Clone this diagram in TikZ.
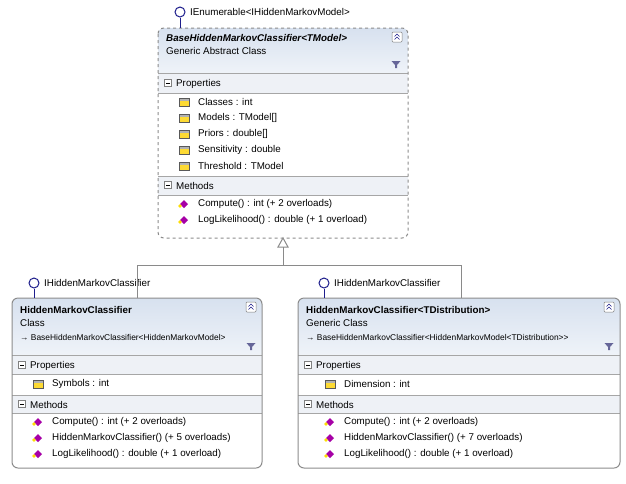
\documentclass[tikz,border=0pt]{standalone}
\usepackage{fontspec}
\setmainfont{Liberation Sans}
\usetikzlibrary{shapes.geometric,calc}
\definecolor{hdr}{HTML}{D7E1EF}
\definecolor{band}{HTML}{EEF1F6}
\definecolor{bord}{HTML}{8C8C8C}
\definecolor{lolly}{HTML}{1E1E8C}
\definecolor{conn}{HTML}{8A8A8A}
\tikzset{
 txt/.style={inner sep=0pt,anchor=west,font=\fontsize{9.8}{10}\selectfont},
 bold/.style={txt,font=\fontsize{9.8}{10}\selectfont\bfseries},
 line/.style={draw=conn,line width=1pt},
}
\newcommand{\propicon}[1]{%
 \fill[yellow!70!orange!80] ($(#1)+(-5,-3)$) rectangle ($(#1)+(5,4)$);
 \fill[gray!60] ($(#1)+(-5,-4)$) rectangle ($(#1)+(5,-1)$);
 \draw[gray!70!black,line width=0.4pt] ($(#1)+(-5,-4)$) rectangle ($(#1)+(5,4)$);}
\newcommand{\methicon}[1]{%
 \fill[violet!70!magenta] ($(#1)+(0,-4)$) -- ($(#1)+(4,0)$) -- ($(#1)+(0,4)$) -- ($(#1)+(-4,0)$) -- cycle;
 \fill[yellow!80!orange] ($(#1)+(-4,2)$) circle (1.8);}
\newcommand{\minusbox}[1]{%
 \draw[gray,fill=white,line width=0.5pt] ($(#1)+(-3.5,-3.5)$) rectangle ($(#1)+(3.5,3.5)$);
 \draw[black,line width=0.6pt] ($(#1)+(-2,0)$) -- ($(#1)+(2,0)$);}
\newcommand{\collapse}[1]{%
 \draw[gray,fill=white,line width=0.5pt,rounded corners=1pt] ($(#1)+(-5,-5)$) rectangle ($(#1)+(5,5)$);
 \draw[lolly,line width=0.6pt] ($(#1)+(-2.5,-0.5)$) -- ($(#1)+(0,-3)$) -- ($(#1)+(2.5,-0.5)$);
 \draw[lolly,line width=0.6pt] ($(#1)+(-2.5,2.5)$) -- ($(#1)+(0,0)$) -- ($(#1)+(2.5,2.5)$);}
\newcommand{\funnel}[1]{%
 \fill[gray!80!blue] ($(#1)+(-4.5,-3)$) -- ($(#1)+(4.5,-3)$) -- ($(#1)+(1,1)$) -- ($(#1)+(1,4)$) -- ($(#1)+(-1,4)$) -- ($(#1)+(-1,1)$) -- cycle;}
\begin{document}
\begin{tikzpicture}[x=1pt,y=-1pt]
\useasboundingbox[fill=white] (0,0) rectangle (626,483);
% ---------- top box
\begin{scope}
\clip[rounded corners=6pt] (158,28) rectangle (408,238);
\shade[top color=hdr,bottom color=hdr!40] (158,28) rectangle (408,73);
\fill[band] (158,74) rectangle (408,93);
\fill[band] (158,176) rectangle (408,195);
\end{scope}
\draw[gray!70,line width=0.5pt] (158,73.5) -- (408,73.5) (158,93) -- (408,93) (158,176) -- (408,176) (158,195) -- (408,195);
\draw[bord,dashed,line width=1pt,rounded corners=6pt] (158,28) rectangle (408,238);
\coordinate (baseTop) at (180,28);
\coordinate (baseBot) at (283,238);
\node[bold,font=\fontsize{9.8}{10}\selectfont\bfseries\itshape] (bn) at (166,38) {BaseHiddenMarkovClassifier<TModel>};
\node[txt] (bs) at (166,51) {Generic Abstract Class};
\collapse{397,37} \funnel{396,64}
\minusbox{168,83} \node[txt] (bp) at (176,84) {Properties};
\foreach \y/\t in {102/Classes : int,118/Models : TModel[],134/Priors : double[],150/Sensitivity : double,166/Threshold : TModel}{
 \propicon{184,\y} \node[txt] at (198,\y) {\t};}
\minusbox{168,185} \node[txt] (bm) at (176,186) {Methods};
\foreach \y/\t in {204/Compute() : int (+ 2 overloads),220/LogLikelihood() : double (+ 1 overload)}{
 \methicon{184,\y} \node[txt] at (198,\y) {\t};}
\node[draw=lolly,circle,line width=1pt,minimum size=10pt,inner sep=0pt] (i1) at (180,12) {};
\draw[lolly,line width=1pt] (i1) -- (baseTop);
\node[txt] at (190,12) {IEnumerable<IHiddenMarkovModel>};
% ---------- left box
\begin{scope}
\clip[rounded corners=6pt] (12,298) rectangle (262,468);
\shade[top color=hdr,bottom color=hdr!40] (12,298) rectangle (262,355);
\fill[band] (12,356) rectangle (262,374);
\fill[band] (12,395) rectangle (262,413);
\end{scope}
\draw[gray!70,line width=0.5pt] (12,355.5) -- (262,355.5) (12,374) -- (262,374) (12,395) -- (262,395) (12,413) -- (262,413);
\draw[bord,line width=1pt,rounded corners=6pt] (12,298) rectangle (262,468);
\coordinate (lTop) at (137,298); \coordinate (lLolly) at (34,298);
\node[bold] at (20,310) {HiddenMarkovClassifier};
\node[txt] at (20,323) {Class};
\node[txt] at (20,337) {\fontsize{8.4}{9}\selectfont → BaseHiddenMarkovClassifier<HiddenMarkovModel>};
\collapse{251,307} \funnel{251,346}
\minusbox{22,365} \node[txt] at (30,366) {Properties};
\propicon{38,384} \node[txt] at (52,384) {Symbols : int};
\minusbox{22,404} \node[txt] at (30,405) {Methods};
\foreach \y/\t in {422/Compute() : int (+ 2 overloads),438/HiddenMarkovClassifier() (+ 5 overloads),454/LogLikelihood() : double (+ 1 overload)}{
 \methicon{38,\y} \node[txt] at (52,\y) {\t};}
\node[draw=lolly,circle,line width=1pt,minimum size=10pt,inner sep=0pt] (i2) at (34,283) {};
\draw[lolly,line width=1pt] (i2) -- (lLolly);
\node[txt] at (44,283) {IHiddenMarkovClassifier};
% ---------- right box
\begin{scope}
\clip[rounded corners=6pt] (298,298) rectangle (620,468);
\shade[top color=hdr,bottom color=hdr!40] (298,298) rectangle (620,355);
\fill[band] (298,356) rectangle (620,374);
\fill[band] (298,395) rectangle (620,413);
\end{scope}
\draw[gray!70,line width=0.5pt] (298,355.5) -- (620,355.5) (298,374) -- (620,374) (298,395) -- (620,395) (298,413) -- (620,413);
\draw[bord,line width=1pt,rounded corners=6pt] (298,298) rectangle (620,468);
\coordinate (rTop) at (461,298); \coordinate (rLolly) at (324,298);
\node[bold] at (306,310) {HiddenMarkovClassifier<TDistribution>};
\node[txt] at (306,323) {Generic Class};
\node[txt] at (306,337) {\fontsize{8.4}{9}\selectfont → BaseHiddenMarkovClassifier<HiddenMarkovModel<TDistribution>{}>};
\collapse{609,307} \funnel{609,346}
\minusbox{308,365} \node[txt] at (316,366) {Properties};
\propicon{330,384} \node[txt] at (344,384) {Dimension : int};
\minusbox{308,404} \node[txt] at (316,405) {Methods};
\foreach \y/\t in {422/Compute() : int (+ 2 overloads),438/HiddenMarkovClassifier() (+ 7 overloads),454/LogLikelihood() : double (+ 1 overload)}{
 \methicon{330,\y} \node[txt] at (344,\y) {\t};}
\node[draw=lolly,circle,line width=1pt,minimum size=10pt,inner sep=0pt] (i3) at (324,283) {};
\draw[lolly,line width=1pt] (i3) -- (rLolly);
\node[txt] at (334,283) {IHiddenMarkovClassifier};
% ---------- inheritance
\draw[conn,line width=1pt,fill=white] (baseBot) -- (278,247) -- (288,247) -- cycle;
\draw[line] (283,247) -- (283,265);
\draw[line] (lTop) -- (137,265) -- (461,265) -- (rTop);
\end{tikzpicture}
\end{document}
